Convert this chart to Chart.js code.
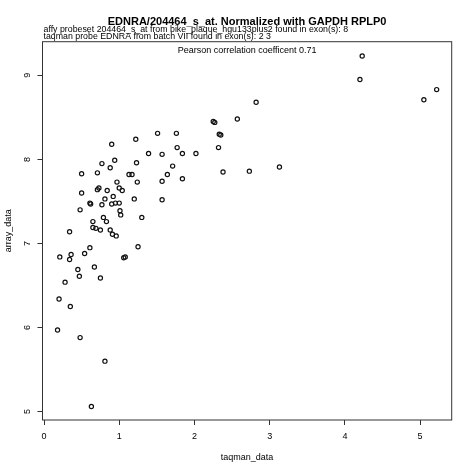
<!DOCTYPE html>
<html lang="en">

<head>
    <meta charset="UTF-8">
    <title>EDNRA/204464_s_at</title>
    <script src="https://cdn.jsdelivr.net/npm/chart.js@4.4.1/dist/chart.umd.min.js"></script>
    <style>
        body {
            margin: 0;
            background: #fff;
        }

        #wrap {
            width: 474px;
            height: 474px;
        }
    </style>
</head>

<body>

    <div id="wrap"><canvas id="scatterChart" width="474" height="474"></canvas></div>

    <script>
        const mainTitle = 'EDNRA/204464_s_at. Normalized with GAPDH RPLP0';
        const subLines = [
            'affy probeset 204464_s_at from bike_plaque_hgu133plus2 found in exon(s): 8',
            'taqman probe EDNRA from batch VII found in exon(s): 2 3'
        ];
        const corrText = 'Pearson correlation coefficent 0.71';

        // valores
        const taqman = [
            0.34, 1.51, 1.76, 1.22, 0.90, 1.77, 1.39, 1.57, 1.84, 2.02,
            0.94, 0.77, 1.23, 0.88, 1.71, 0.50, 0.71, 1.13, 1.17, 1.64,
            0.97, 1.24, 1.57, 1.84, 0.73, 0.71, 0.84, 1.00, 1.04, 0.50,
            0.92, 0.81, 1.20, 1.57, 0.61, 0.62, 0.77, 0.90, 0.95, 1.00,
            0.48, 1.01, 1.02, 1.30, 0.79, 0.83, 0.65, 0.65, 0.69, 0.75,
            0.88, 0.91, 0.96, 0.61, 0.54, 0.36, 0.21, 0.34, 1.25, 1.06,
            1.08, 0.67, 0.45, 0.47, 0.75, 0.28, 0.20, 0.35, 0.18, 0.48,
            0.81, 0.63, 4.23, 4.20, 5.22, 5.05, 2.82, 2.25, 2.27, 2.57,
            2.33, 2.35, 2.32, 3.13, 2.73, 2.38
        ];
        const arrayData = [
            7.14, 8.31, 8.31, 8.24, 8.18, 8.14, 8.07, 8.06, 8.07, 8.07,
            7.99, 7.95, 7.96, 7.90, 7.92, 7.83, 7.84, 7.82, 7.82, 7.82,
            7.73, 7.73, 7.74, 7.77, 7.66, 7.64, 7.63, 7.66, 7.63, 7.60,
            7.56, 7.53, 7.53, 7.52, 7.48, 7.47, 7.46, 7.47, 7.48, 7.48,
            7.40, 7.39, 7.34, 7.31, 7.31, 7.26, 7.26, 7.19, 7.18, 7.16,
            7.16, 7.11, 7.09, 6.95, 6.88, 6.87, 6.84, 6.81, 6.96, 6.83,
            6.84, 6.72, 6.69, 6.61, 6.59, 6.54, 6.34, 6.25, 5.97, 5.88,
            5.60, 5.06, 9.23, 8.95, 8.83, 8.71, 8.68, 8.45, 8.44, 8.48,
            8.30, 8.29, 8.14, 7.91, 7.86, 7.85
        ];

        const xTicks = [0, 1, 2, 3, 4, 5];
        const yTicks = [5, 6, 7, 8, 9];

        const fontFamily = '"Liberation Sans", Arial, Helvetica, sans-serif';

        const points = taqman.map((x, i) => ({ x: x, y: arrayData[i] }));

        // caixa do gráfico e textos do cabeçalho
        const annotate = {
            id: 'annotate',
            afterDraw(chart) {
                const { ctx, chartArea: a } = chart;
                const cx = (a.left + a.right) / 2;
                ctx.save();
                ctx.strokeStyle = '#333';
                ctx.lineWidth = 1;
                ctx.strokeRect(a.left, a.top, a.right - a.left, a.bottom - a.top);

                ctx.fillStyle = '#000';
                ctx.textBaseline = 'middle';
                ctx.textAlign = 'center';
                ctx.font = 'bold 11px ' + fontFamily;
                ctx.fillText(mainTitle, cx, 21.5);

                ctx.font = '8.8px ' + fontFamily;
                ctx.textAlign = 'left';
                ctx.fillText(subLines[0], a.left + 1, 29.5);
                ctx.fillText(subLines[1], a.left + 1, 37);

                ctx.font = '9px ' + fontFamily;
                ctx.textAlign = 'center';
                ctx.fillText(corrText, cx, 50.5);
                ctx.restore();
            }
        };

        const ctx = document.getElementById('scatterChart').getContext('2d');

        const chart = new Chart(ctx, {
            type: 'scatter',
            data: {
                datasets: [{
                    label: 'array_data',
                    data: points,
                    pointStyle: 'circle',
                    pointRadius: 2.1,
                    pointBorderWidth: 1.2,
                    borderColor: '#111',
                    backgroundColor: 'rgba(0,0,0,0)'
                }]
            },
            options: {
                responsive: false,
                animation: false,
                layout: {
                    padding: { top: 41.7, right: 22.3, left: 0, bottom: 0 }
                },
                plugins: {
                    legend: { display: false },
                    tooltip: { enabled: false }
                },
                scales: {
                    x: {
                        type: 'linear',
                        min: -0.02,
                        max: 5.42,
                        afterBuildTicks: s => { s.ticks = xTicks.map(v => ({ value: v })); },
                        afterFit: s => { s.height = 54; },
                        border: { display: false },
                        grid: {
                            drawOnChartArea: false,
                            drawTicks: true,
                            tickLength: 5,
                            color: '#333'
                        },
                        ticks: {
                            color: '#000',
                            padding: 6,
                            maxRotation: 0,
                            font: { family: fontFamily, size: 9 }
                        },
                        title: {
                            display: true,
                            text: 'taqman_data',
                            color: '#000',
                            font: { family: fontFamily, size: 9 },
                            padding: { top: 0, bottom: 10.6 }
                        }
                    },
                    y: {
                        type: 'linear',
                        min: 4.9,
                        max: 9.4,
                        afterBuildTicks: s => { s.ticks = yTicks.map(v => ({ value: v })); },
                        afterFit: s => { s.width = 42.5; },
                        border: { display: false },
                        grid: {
                            drawOnChartArea: false,
                            drawTicks: true,
                            tickLength: 5,
                            color: '#333'
                        },
                        ticks: {
                            color: '#000',
                            padding: 7,
                            minRotation: 90,
                            maxRotation: 90,
                            crossAlign: 'center',
                            font: { family: fontFamily, size: 9 }
                        },
                        title: {
                            display: true,
                            text: 'array_data',
                            color: '#000',
                            font: { family: fontFamily, size: 9 },
                            padding: { top: 3.5, bottom: 0 }
                        }
                    }
                }
            },
            plugins: [annotate]
        });
    </script>

</body>

</html>
